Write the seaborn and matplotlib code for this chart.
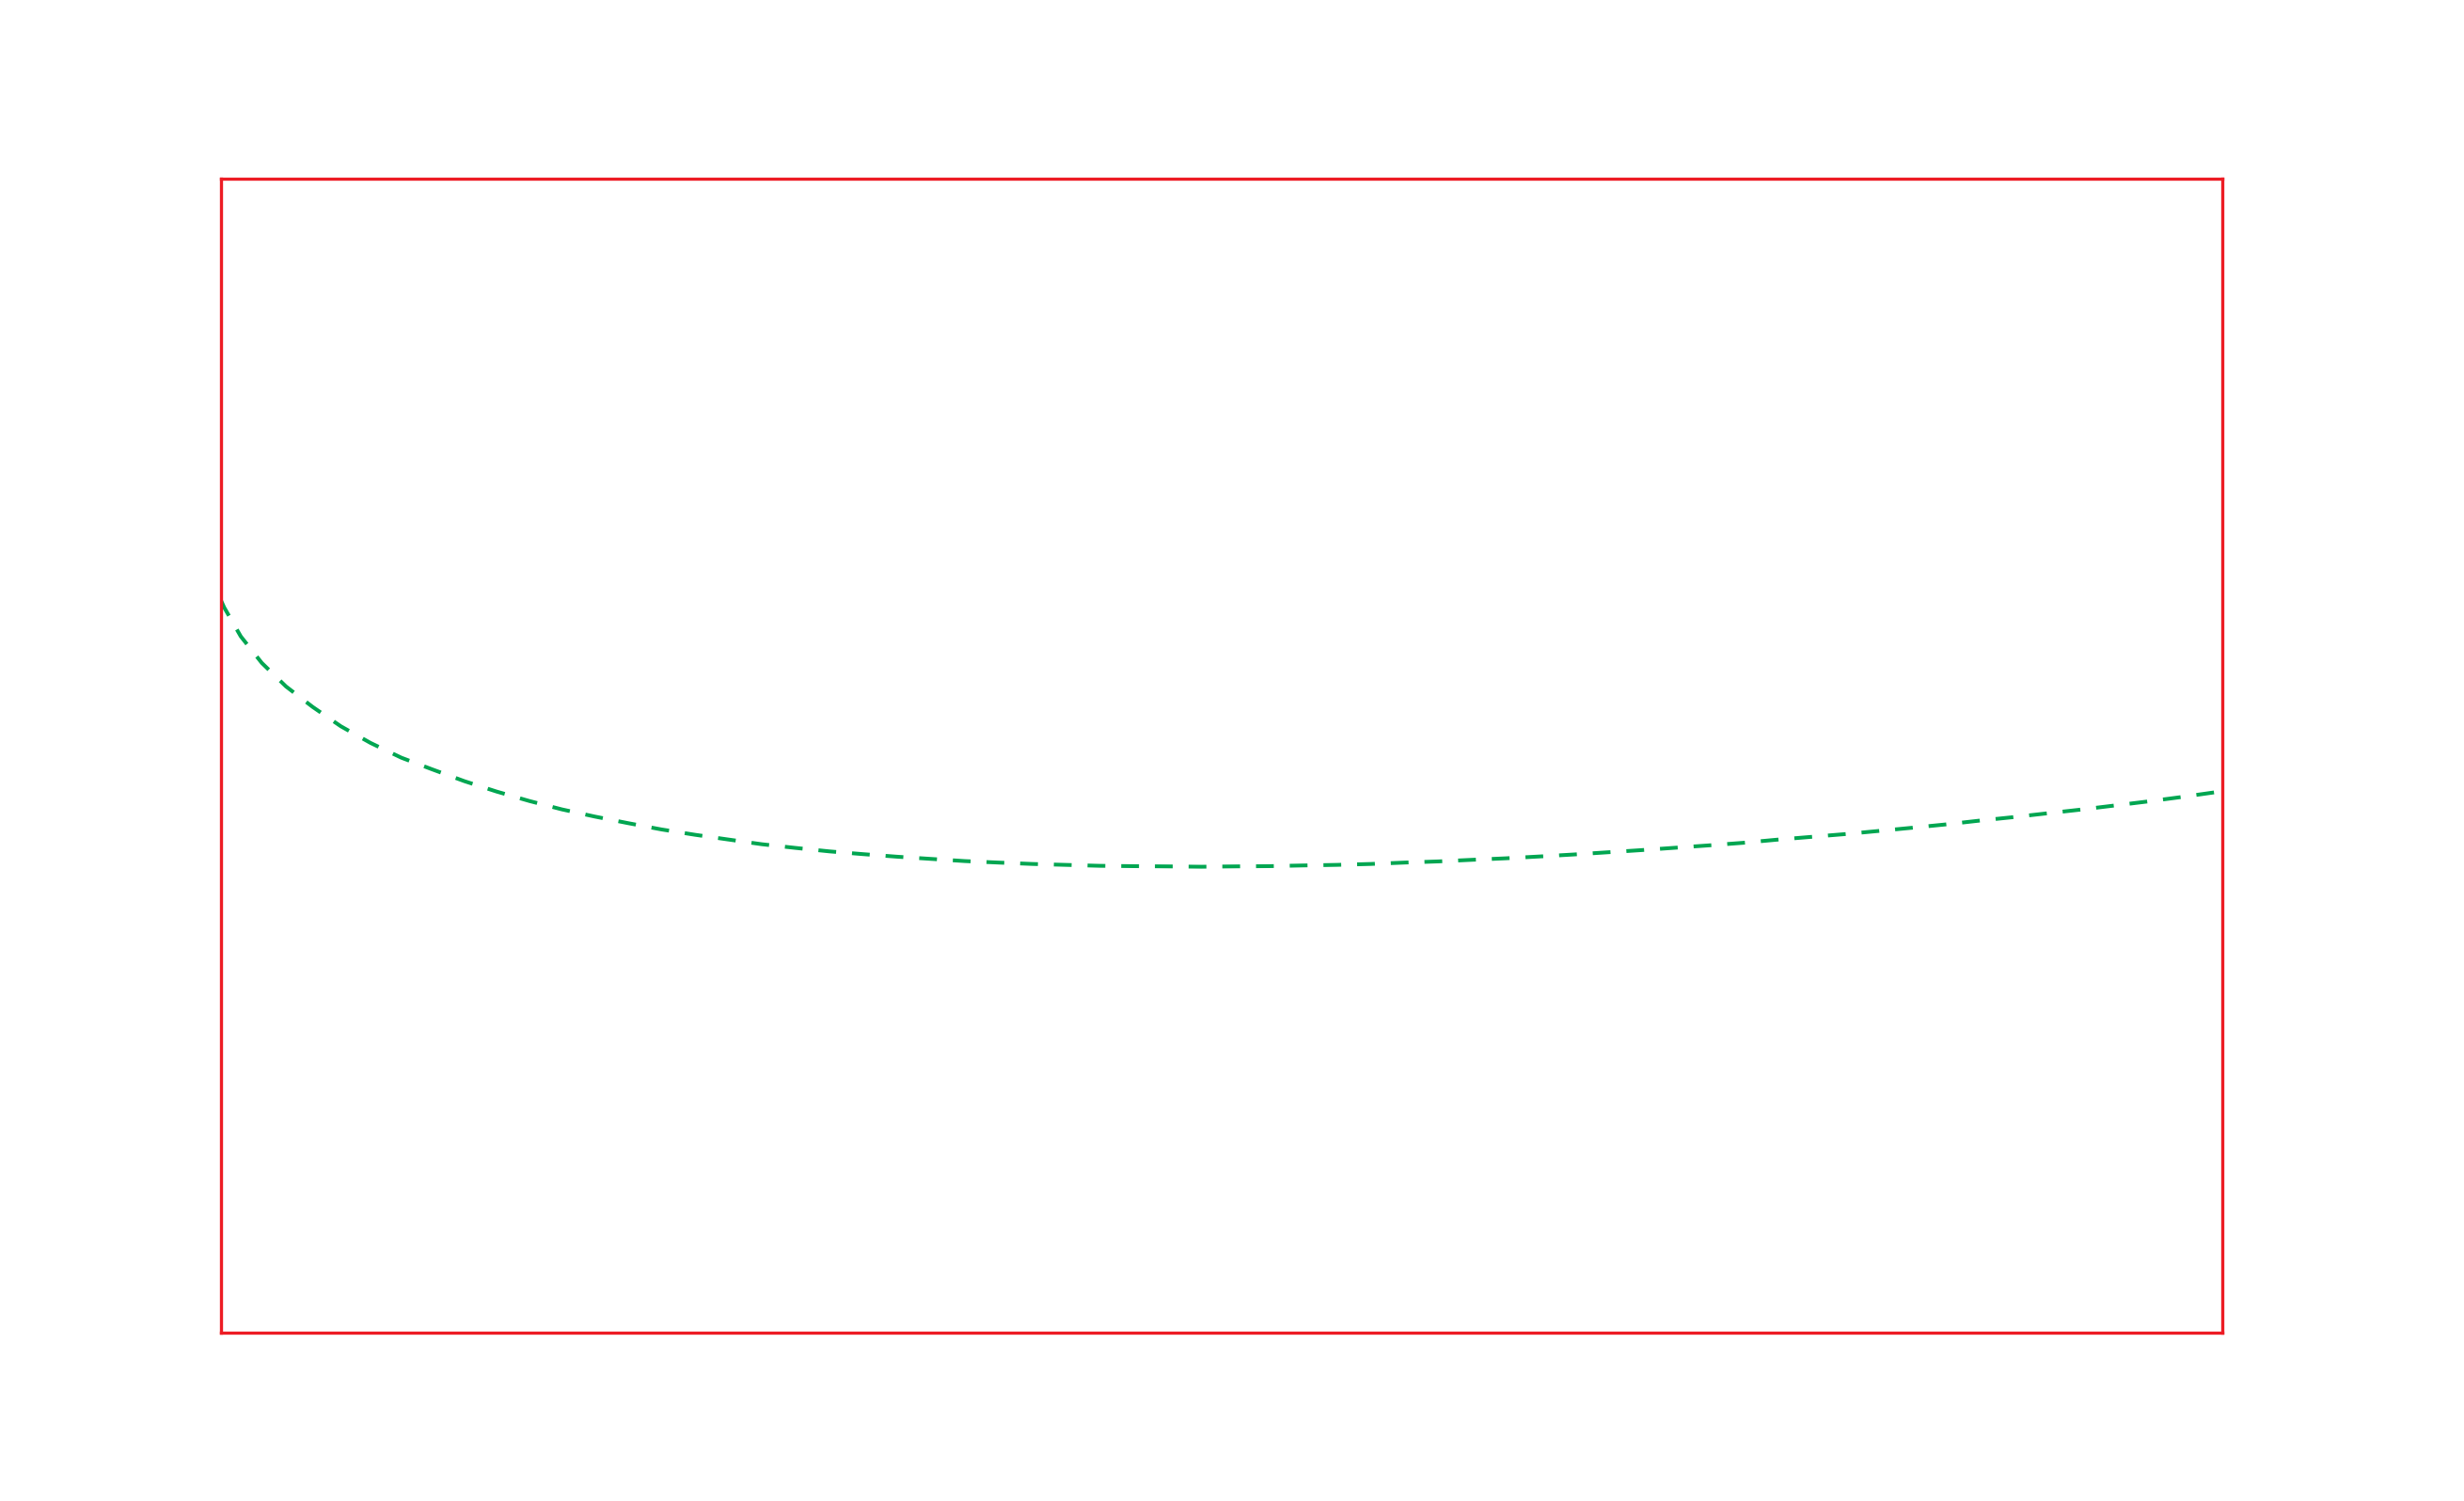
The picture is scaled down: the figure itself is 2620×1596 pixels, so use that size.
import matplotlib
matplotlib.use("Agg")
import matplotlib.pyplot as plt
import pandas as pd
import seaborn as sns

# curve (axes run 0..10 on both sides)
curve_x = [0.0, 0.017, 0.100, 0.205, 0.326, 0.459, 0.600, 0.748, 0.902, 1.059,
           1.218, 1.377, 1.541, 1.704, 1.868, 2.034, 2.202, 2.369, 2.535, 2.703,
           2.872, 3.041, 3.209, 3.378, 3.547, 3.717, 3.886, 4.055, 4.222, 4.391,
           4.559, 4.728, 4.899, 5.068, 5.237, 5.406, 5.575, 5.745, 5.914, 6.083,
           6.252, 6.421, 6.590, 6.759, 6.928, 7.098, 7.435, 7.604, 7.773, 7.941,
           8.110, 8.277, 8.446, 8.615, 8.784, 8.952, 9.121, 9.288, 9.455, 9.625,
           9.792, 9.959, 10.0]
curve_y = [6.349, 6.284, 6.033, 5.803, 5.599, 5.422, 5.254, 5.110, 4.982, 4.879,
           4.778, 4.689, 4.607, 4.534, 4.472, 4.415, 4.360, 4.314, 4.273, 4.232,
           4.200, 4.170, 4.146, 4.124, 4.105, 4.086, 4.073, 4.061, 4.053, 4.045,
           4.042, 4.040, 4.037, 4.040, 4.042, 4.048, 4.053, 4.061, 4.073, 4.083,
           4.097, 4.110, 4.126, 4.143, 4.162, 4.181, 4.222, 4.244, 4.271, 4.295,
           4.319, 4.346, 4.374, 4.403, 4.436, 4.466, 4.499, 4.531, 4.566, 4.602,
           4.640, 4.681, 4.686]

x_range = [0, 10]
y_range = [0, 10]

RED = "#ED1C24"
GREEN = "#00A651"

sns.set_style("white")
plt.rcParams["lines.scale_dashes"] = False

fig = plt.figure(figsize=(13.1, 7.98), dpi=200)
ax = fig.add_axes([0.0896, 0.1122, 0.9019 - 0.0896, 0.8810 - 0.1122])

df = pd.DataFrame({"x": curve_x, "y": curve_y})
sns.lineplot(data=df, x="x", y="y", ax=ax, color=GREEN, linewidth=1.45,
             estimator=None, sort=False)
ax.lines[0].set_linestyle((0, (6.8, 6.1)))

ax.set_xlim(*x_range)
ax.set_ylim(*y_range)
ax.set_xticks([])
ax.set_yticks([])
ax.set_xlabel("")
ax.set_ylabel("")
for side in ax.spines.values():
    side.set_visible(True)
    side.set_color(RED)
    side.set_linewidth(1.2)

fig.savefig("out.png", dpi=200, facecolor="white")
